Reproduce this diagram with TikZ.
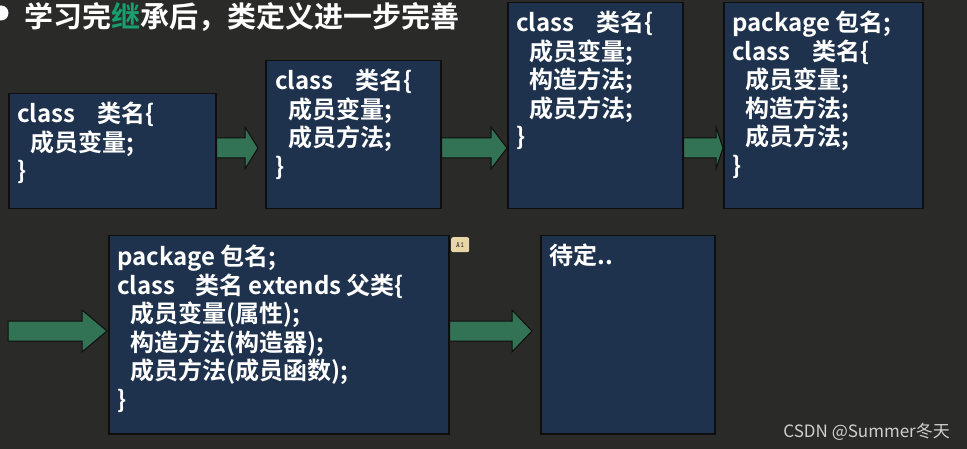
\documentclass[tikz,border=0pt]{standalone}
\usepackage{fontspec}
\setmainfont{Noto Sans CJK SC}[BoldFont={Noto Sans CJK SC Bold}]
\usepackage{xcolor}
\definecolor{boardDark}{HTML}{2A2A29}
\definecolor{boxColor}{HTML}{1F324D}
\definecolor{lineDark}{HTML}{0E0E0E}
\definecolor{arrowColor}{HTML}{327255}
\definecolor{markGreen}{HTML}{17A06E}
\definecolor{noteColor}{HTML}{E8D6A6}
\definecolor{waterColor}{HTML}{CFCFCF}
\usepackage{tikz}
\usetikzlibrary{positioning,calc}
\tikzset{
  classBox/.style={
    rectangle,
    draw=lineDark,
    line width=1.5pt,
    fill=boxColor,
    anchor=north west,
    inner sep=0pt
 },
  codeText/.style={
    text=white,
    font=\bfseries\fontsize{24}{28.5}\selectfont,
    align=left,
    inner sep=0pt
 },
  flowArrow/.style={
    draw=lineDark,
    line width=1pt,
    fill=arrowColor,
    line join=miter
 }
}
% block arrow: start, tip, head length
\newcommand{\blockArrow}[3]{%
  \draw[flowArrow] let \p1=(#1), \p2=(#2) in
    (\x1,\y1+10pt) -- (\x2-#3,\y1+10pt) -- (\x2-#3,\y1+21pt) -- (\x2,\y1)
    -- (\x2-#3,\y1-21pt) -- (\x2-#3,\y1-10pt) -- (\x1,\y1-10pt) -- cycle;}
\newcommand{\indentCode}{\hspace*{13pt}}
\begin{document}
\begin{tikzpicture}[x=1pt,y=-1pt,node distance=10pt]
            \fill[boardDark] (0,0) rectangle (967,449);
            \useasboundingbox (0,0) rectangle (967,449);

            % heading
            \node[circle, fill=white, minimum size=15pt, inner sep=0pt] (dot) at (1,13) {};
            \node[text=white, font=\bfseries\fontsize{29}{29}\selectfont, anchor=north west, inner sep=0pt] (title) at (24,2)
                {学习完\textcolor{markGreen}{继}承后，类定义进一步完善};

            \coordinate (row1) at (0,148);
            \coordinate (row2) at (0,331);
            \coordinate (start) at (8,331);

            % boxes, top row
            \node[classBox, minimum width=207pt, minimum height=115pt] (b1) at (8,93) {};
            \node[classBox, minimum width=175pt, minimum height=148pt] (b2) at (265,60) {};
            \node[classBox, minimum width=175pt, minimum height=206pt] (b3) at (507,2) {};
            \node[classBox, minimum width=199pt, minimum height=206pt] (b4) at (723,2) {};

            % boxes, bottom row
            \node[classBox, minimum width=340pt, minimum height=198pt] (b5) at (108,235) {};
            \node[classBox, minimum width=174pt, minimum height=198pt] (b6) at (540,235) {};

            \blockArrow{b1.east |- row1}{$(b2.west)+(-7,0)$}{13pt}
            \blockArrow{b2.east |- row1}{b3.west}{16pt}
            \blockArrow{b3.east |- row1}{b4.west}{7pt}
            \blockArrow{start}{$(b5.west)+(-1,0)$}{25pt}
            \blockArrow{b5.east |- row2}{$(b6.west)+(-8,0)$}{20pt}

            \node[codeText, below right=9pt and 9pt of b1.north west] (t1)
                {class\hspace{22pt}类名\{\\ \indentCode 成员变量;\\ \}};
            \node[codeText, below right=9pt and 10pt of b2.north west] (t2)
                {class\hspace{22pt}类名\{\\ \indentCode 成员变量;\\ \indentCode 成员方法;\\ \}};
            \node[codeText, below right=9pt and 9pt of b3.north west] (t3)
                {class\hspace{22pt}类名\{\\ \indentCode 成员变量;\\ \indentCode 构造方法;\\ \indentCode 成员方法;\\ \}};
            \node[codeText, below right=9pt and 9pt of b4.north west] (t4)
                {package 包名;\\ class\hspace{22pt}类名\{\\ \indentCode 成员变量;\\ \indentCode 构造方法;\\ \indentCode 成员方法;\\ \}};
            \node[codeText, below right=10pt and 9pt of b5.north west] (t5)
                {package 包名;\\ class\hspace{20pt}类名 extends 父类\{\\ \indentCode 成员变量(属性);\\ \indentCode 构造方法(构造器);\\ \indentCode 成员方法(成员函数);\\ \}};
            \node[codeText, below right=9pt and 9pt of b6.north west] (t6) {待定..};

            % comment tag
            \node[fill=noteColor, rounded corners=2pt, minimum width=18pt, minimum height=15pt, inner sep=0pt,
                  text=black!80, font=\ttfamily\fontsize{8}{8}\selectfont, anchor=north west] (tag) at (451,237) {A1};

            \node[text=waterColor, font=\fontsize{17}{17}\selectfont, anchor=base east, inner sep=0pt] (mark) at (950,437)
                {CSDN @Summer冬天};
        \end{tikzpicture}
\end{document}
